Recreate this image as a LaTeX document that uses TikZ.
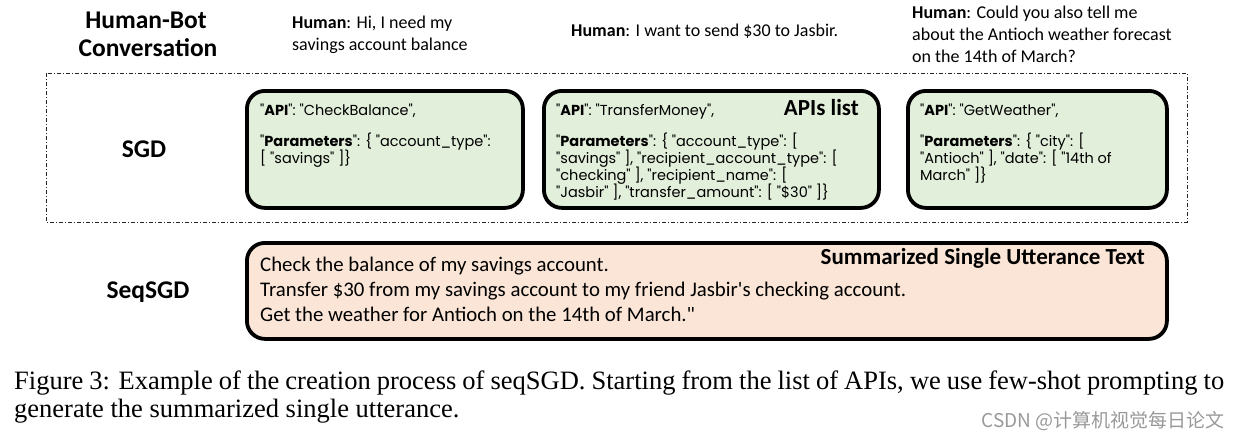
\documentclass[tikz,border=0pt]{standalone}
\usepackage{fontspec}
\setmainfont{Carlito}
\newfontfamily\gothic{Poppins}
\newfontfamily\capfont{Liberation Serif}
\newfontfamily\cjk{Noto Sans CJK SC}
\definecolor{boxgreen}{RGB}{226,239,218}
\definecolor{boxpeach}{RGB}{251,229,214}
\newcommand\qq{\XeTeXglyph\XeTeXcharglyph"22\relax}
\newcommand\apos{\XeTeXglyph\XeTeXcharglyph"27\relax}
\begin{document}
\begin{tikzpicture}[x=1pt,y=-1pt,
  lbl/.style={font=\fontsize{25.5}{29}\selectfont\bfseries, anchor=base, inner sep=0},
  human/.style={font=\fontsize{18}{22}\selectfont, anchor=base west, inner sep=0},
  apibox/.style={draw=black, line width=3.8pt, rounded corners=18pt, anchor=north west, inner sep=0},
  apitext/.style={font=\gothic\fontsize{14.5}{17}\selectfont, anchor=base west, inner sep=0},
  title/.style={font=\fontsize{23}{27}\selectfont\bfseries, anchor=base east, inner sep=0},
  sumtext/.style={font=\fontsize{20.8}{25}\selectfont, anchor=base west, inner sep=0},
  captext/.style={font=\capfont\fontsize{26.5}{28}\selectfont, anchor=base west, inner sep=0},
  frame/.style={draw=black!85, line width=0.9pt, dash pattern=on 4pt off 2pt on 1pt off 2pt}]
\useasboundingbox (0,0) rectangle (1240,439);
% left labels
\node[lbl] (hb1) at (146,28) {Human-Bot};
\node[lbl] (hb2) at (148,56) {Conversation};
\node[lbl] (sgd) at (144,157) {SGD};
\node[lbl] (seq) at (148,298) {SeqSGD};
% human utterances
\node[human] (h1a) at (292,28) {\textbf{Human}: Hi, I need my};
\node[human] (h1b) at (292,50) {savings account balance};
\node[human] (h2a) at (571,36) {\textbf{Human}: I want to send \$30 to Jasbir.};
\node[human] (h3a) at (912,18) {\textbf{Human}: Could you also tell me};
\node[human] (h3b) at (912,40) {about the Antioch weather forecast};
\node[human] (h3c) at (912,62) {on the 14th of March?};
% dashed frame
\draw[frame] (46,73) rectangle (1187,222);
% API boxes
\node[apibox, fill=boxgreen, minimum width=276pt, minimum height=117pt] (box1) at (245,89) {};
\node[apibox, fill=boxgreen, minimum width=335pt, minimum height=117pt] (box2) at (542,89) {};
\node[apibox, fill=boxgreen, minimum width=259pt, minimum height=117pt] (box3) at (906,89) {};
\node[apitext] (b1a) at (260,115) {\qq\textbf{API}\qq: \qq CheckBalance\qq,};
\node[apitext] (b1b) at (260,146) {\qq\textbf{Parameters}\qq: \{ \qq account\_type\qq:};
\node[apitext] (b1c) at (260,163) {[ \qq savings\qq\ ]\}};
\node[apitext] (b2a) at (556,115) {\qq\textbf{API}\qq: \qq TransferMoney\qq,};
\node[title] (apis) at (859,115) {APIs list};
\node[apitext] (b2b) at (556,146) {\qq\textbf{Parameters}\qq: \{ \qq account\_type\qq: [};
\node[apitext] (b2c) at (556,163) {\qq savings\qq\ ], \qq recipient\_account\_type\qq: [};
\node[apitext] (b2d) at (556,180) {\qq checking\qq\ ], \qq recipient\_name\qq: [};
\node[apitext] (b2e) at (556,197) {\qq Jasbir\qq\ ], \qq transfer\_amount\qq: [ \qq\$30\qq\ ]\}};
\node[apitext] (b3a) at (920,115) {\qq\textbf{API}\qq: \qq GetWeather\qq,};
\node[apitext] (b3b) at (920,146) {\qq\textbf{Parameters}\qq: \{ \qq city\qq: [};
\node[apitext] (b3c) at (920,163) {\qq Antioch\qq\ ], \qq date\qq: [ \qq 14th of};
\node[apitext] (b3d) at (920,180) {March\qq\ ]\}};
% summary box
\node[apibox, fill=boxpeach, minimum width=920pt, minimum height=96pt] (sumbox) at (245,241) {};
\node[title] (sumtitle) at (1145,264) {Summarized Single Utterance Text};
\node[sumtext] (s1) at (260,271) {Check the balance of my savings account.};
\node[sumtext] (s2) at (260,296) {Transfer \$30 from my savings account to my friend Jasbir\apos s checking account.};
\node[sumtext] (s3) at (260,321) {Get the weather for Antioch on the 14th of March.\qq};
% caption
\node[captext] (cap1) at (14,389) {\makebox[1210pt][s]{Figure 3: Example of the creation process of seqSGD. Starting from the list of APIs, we use few-shot prompting to}};
\node[captext] (cap2) at (14,417) {generate the summarized single utterance.};
\node[font=\cjk\fontsize{19}{20}\selectfont, text=black!40, anchor=base east, inner sep=0] (wm) at (1225,427) {CSDN @计算机视觉每日论文};
\end{tikzpicture}
\end{document}
